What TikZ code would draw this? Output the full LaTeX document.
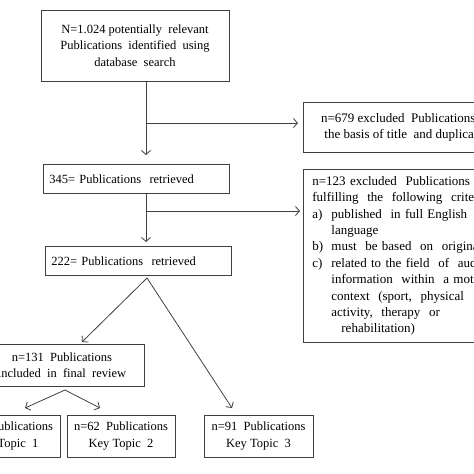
\documentclass[tikz,border=0pt]{standalone}
\usepackage{fontspec}
\setmainfont{Liberation Serif}
\usetikzlibrary{arrows.meta, calc, positioning}
\tikzset{box/.style={draw=black!75, line width=0.8pt, inner sep=0pt, font=\fontsize{12.5}{16.4}\selectfont},
	sidebox/.style={box, anchor=north west, font=\fontsize{13}{16.4}\selectfont}}
\newcommand{\itm}[1]{\makebox[19pt][l]{#1}}

\begin{document}
\begin{tikzpicture}[>={Straight Barb[length=4pt,width=9pt]}, x=1pt, y=-1pt, line width=0.8pt, draw=black!75]
		\useasboundingbox (0,0) rectangle (474,474);
		\clip (0,0) rectangle (474,474);
		\node[box, minimum width=188pt, minimum height=71pt, align=center] (search) at (135,45.5) {N=1.024 potentially\ \ relevant\\ Publications\ \ identified\ \ using\\ database\ \ search};
		\node[sidebox, minimum width=206pt, minimum height=50pt, align=center] (excl1) at (303,102) {n=679 excluded\ \ Publications on\\ the basis of title\ \ and duplicates};
		\node[box, anchor=north west, minimum width=186pt, minimum height=29pt, text width=174pt, align=left] (ret1) at (43,164) {345= Publications\ \ retrieved};
		\node[box, anchor=north west, minimum width=186pt, minimum height=29pt, text width=174pt, align=left] (ret2) at (45,246) {222= Publications\ \ retrieved};
		\node[sidebox, minimum width=210pt, minimum height=173pt, text width=192pt, inner xsep=9pt, inner ysep=5pt, align=left] (excl2) at (303,169) {n=123 excluded\ \ Publications not\\ fulfilling\ \ the\ \ following\ \ criteria:\\ \itm{a)}published\ \ in full English\\ \hspace*{19pt}language\\ \itm{b)}must\ \ be based\ \ on\ \ original\\ \itm{c)}related to the field\ \ of\ \ audio\\ \hspace*{19pt}information\ \ within\ \ a motor\\ \hspace*{19pt}context\ \ (sport,\ \ physical\\ \hspace*{19pt}activity,\ \ therapy\ \ or\\ \hspace*{29pt}rehabilitation)};
		\node[box, minimum width=165pt, minimum height=42pt, align=center] (final) at (62,365) {n=131\ \ Publications\\ included\ \ in\ \ final\ \ review};
		\node[box, minimum width=108pt, minimum height=42pt, align=center] (topic1) at (6,436) {n=69\ \ Publications\\ Key Topic\ \ 1};
		\node[box, minimum width=108pt, minimum height=42pt, align=center] (topic2) at (121,436) {n=62\ \ Publications\\ Key Topic\ \ 2};
		\node[box, minimum width=109pt, minimum height=42pt, align=center] (topic3) at (258.5,436) {n=91\ \ Publications\\ Key Topic\ \ 3};
		% branch points
		\coordinate (b1) at (146,123); \coordinate (b2) at (146,211);
		\draw (b1 |- search.south) -- (b1); \draw[->, shorten >=5pt] (b1) -- (b1 -| excl1.west); \draw[->, shorten >=9pt] (b1) -- (b1 |- ret1.north);
		\draw (b2 |- ret1.south) -- (b2); \draw[->, shorten >=3pt] (b2) -- (b2 -| excl2.west); \draw[->, shorten >=4pt] (b2) -- (b2 |- ret2.north);
		% fans
		\coordinate (f1) at (147,278); \coordinate (f1l) at (82,342); \coordinate (f1r) at (232,408);
		\draw[->] (f1) -- (f1l); \draw[->] (f1) -- (f1r);
		\coordinate (f2) at (65,390); \coordinate (f2l) at (25,408); \coordinate (f2r) at (100,408);
		\draw[->] (f2) -- (f2l); \draw[->] (f2) -- (f2r);
\end{tikzpicture}
\end{document}
